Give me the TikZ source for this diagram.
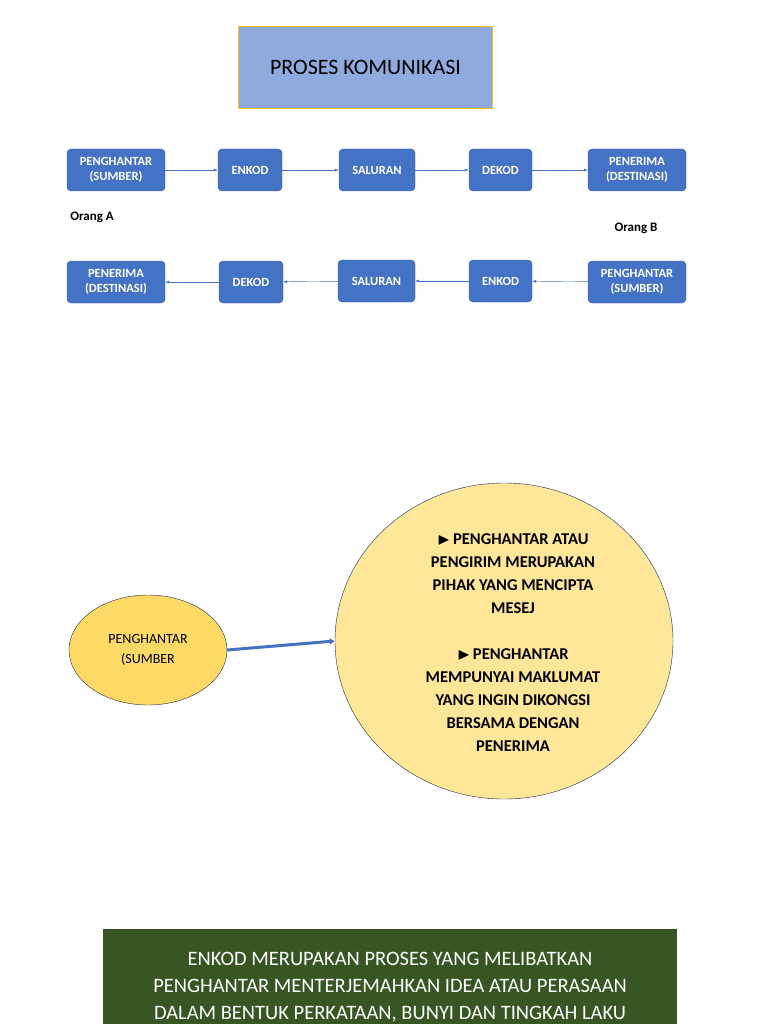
\documentclass[tikz,border=0pt]{standalone}
\usepackage{fontspec}
\setmainfont{Carlito}
\usepackage{amssymb}
\usetikzlibrary{shapes.geometric,arrows.meta}
\definecolor{myblue}{RGB}{68,114,196}
\definecolor{mytitle}{RGB}{143,170,220}
\definecolor{mygold}{RGB}{255,192,0}
\definecolor{myyellow}{RGB}{255,217,102}
\definecolor{mylight}{RGB}{255,230,153}
\definecolor{mygreen}{RGB}{55,86,35}
\begin{document}
\begin{tikzpicture}[x=1pt,y=-1pt,
	box/.style={draw=myblue!80!black,fill=myblue,rounded corners=4pt,text=white,align=center,
		font=\bfseries\fontsize{12.5}{15}\selectfont,inner sep=0pt},
	link/.style={myblue,-{Latex[length=4pt,width=3pt]},thin},
	]
	\useasboundingbox (0,0) rectangle (768,1024);
	
	% the title
	\node[draw=mygold,fill=mytitle,minimum width=254,minimum height=82,
		font=\fontsize{22}{24}\selectfont] (title) at (365.5,67) {PROSES KOMUNIKASI};
	
	% the upper row
	\node[box,minimum width=98,minimum height=42] (a1) at (116,170) {PENGHANTAR\\(SUMBER)};
	\node[box,minimum width=64,minimum height=42] (a2) at (250,170) {ENKOD};
	\node[box,minimum width=76,minimum height=42] (a3) at (377,170) {SALURAN};
	\node[box,minimum width=63,minimum height=42] (a4) at (500.5,170) {DEKOD};
	\node[box,minimum width=98,minimum height=42] (a5) at (637,170) {PENERIMA\\(DESTINASI)};
	
	% the lower row
	\node[box,minimum width=98,minimum height=42] (b1) at (116,282) {PENERIMA\\(DESTINASI)};
	\node[box,minimum width=64,minimum height=42] (b2) at (251,282) {DEKOD};
	\node[box,minimum width=77,minimum height=42] (b3) at (376.5,281) {SALURAN};
	\node[box,minimum width=63,minimum height=42] (b4) at (500.5,281) {ENKOD};
	\node[box,minimum width=98,minimum height=42] (b5) at (637,282) {PENGHANTAR\\(SUMBER)};
	
	\node[font=\bfseries\fontsize{13}{15}\selectfont] (oa) at (92,217) {Orang A};
	\node[font=\bfseries\fontsize{13}{15}\selectfont] (ob) at (636,228) {Orang B};
	
	% the edges
	\foreach \i/\j in {1/2,2/3,3/4,4/5}
	\draw[link] (a\i) -- (a\j);
	\foreach \i/\j in {5/4,4/3,3/2,2/1}
	\draw[link] (b\i) -- (b\j);
	
	% the two ellipses
	\node[ellipse,draw=myblue!40!black,fill=myyellow,minimum width=158,minimum height=110,
		align=center,font=\fontsize{14}{20}\selectfont] (src) at (148,650) {PENGHANTAR\\(SUMBER};
	\node[ellipse,draw=myblue!40!black,fill=mylight,minimum width=338,minimum height=316,inner sep=0pt] (info) at (504,641) {};
	\node[align=center,font=\bfseries\fontsize{16.5}{23}\selectfont] (infotxt) at (513,643)
		{$\blacktriangleright$\,PENGHANTAR ATAU\\PENGIRIM MERUPAKAN\\PIHAK YANG MENCIPTA\\MESEJ\\[23pt]
		$\blacktriangleright$\,PENGHANTAR\\MEMPUNYAI MAKLUMAT\\YANG INGIN DIKONGSI\\BERSAMA DENGAN\\PENERIMA};
	\draw[myblue,line width=3pt,-{Latex[length=5pt,width=7pt]}] (src.east) -- (info.west);
	
	% the note
	\node[fill=mygreen,minimum width=574,minimum height=130,anchor=north west] (note) at (103,929) {};
	\node[text=white,align=center,anchor=north,font=\fontsize{20.5}{27}\selectfont] (notetxt) at (390,949)
		{ENKOD MERUPAKAN PROSES YANG MELIBATKAN\\PENGHANTAR MENTERJEMAHKAN IDEA ATAU PERASAAN\\DALAM BENTUK PERKATAAN, BUNYI DAN TINGKAH LAKU};
\end{tikzpicture}
\end{document}
